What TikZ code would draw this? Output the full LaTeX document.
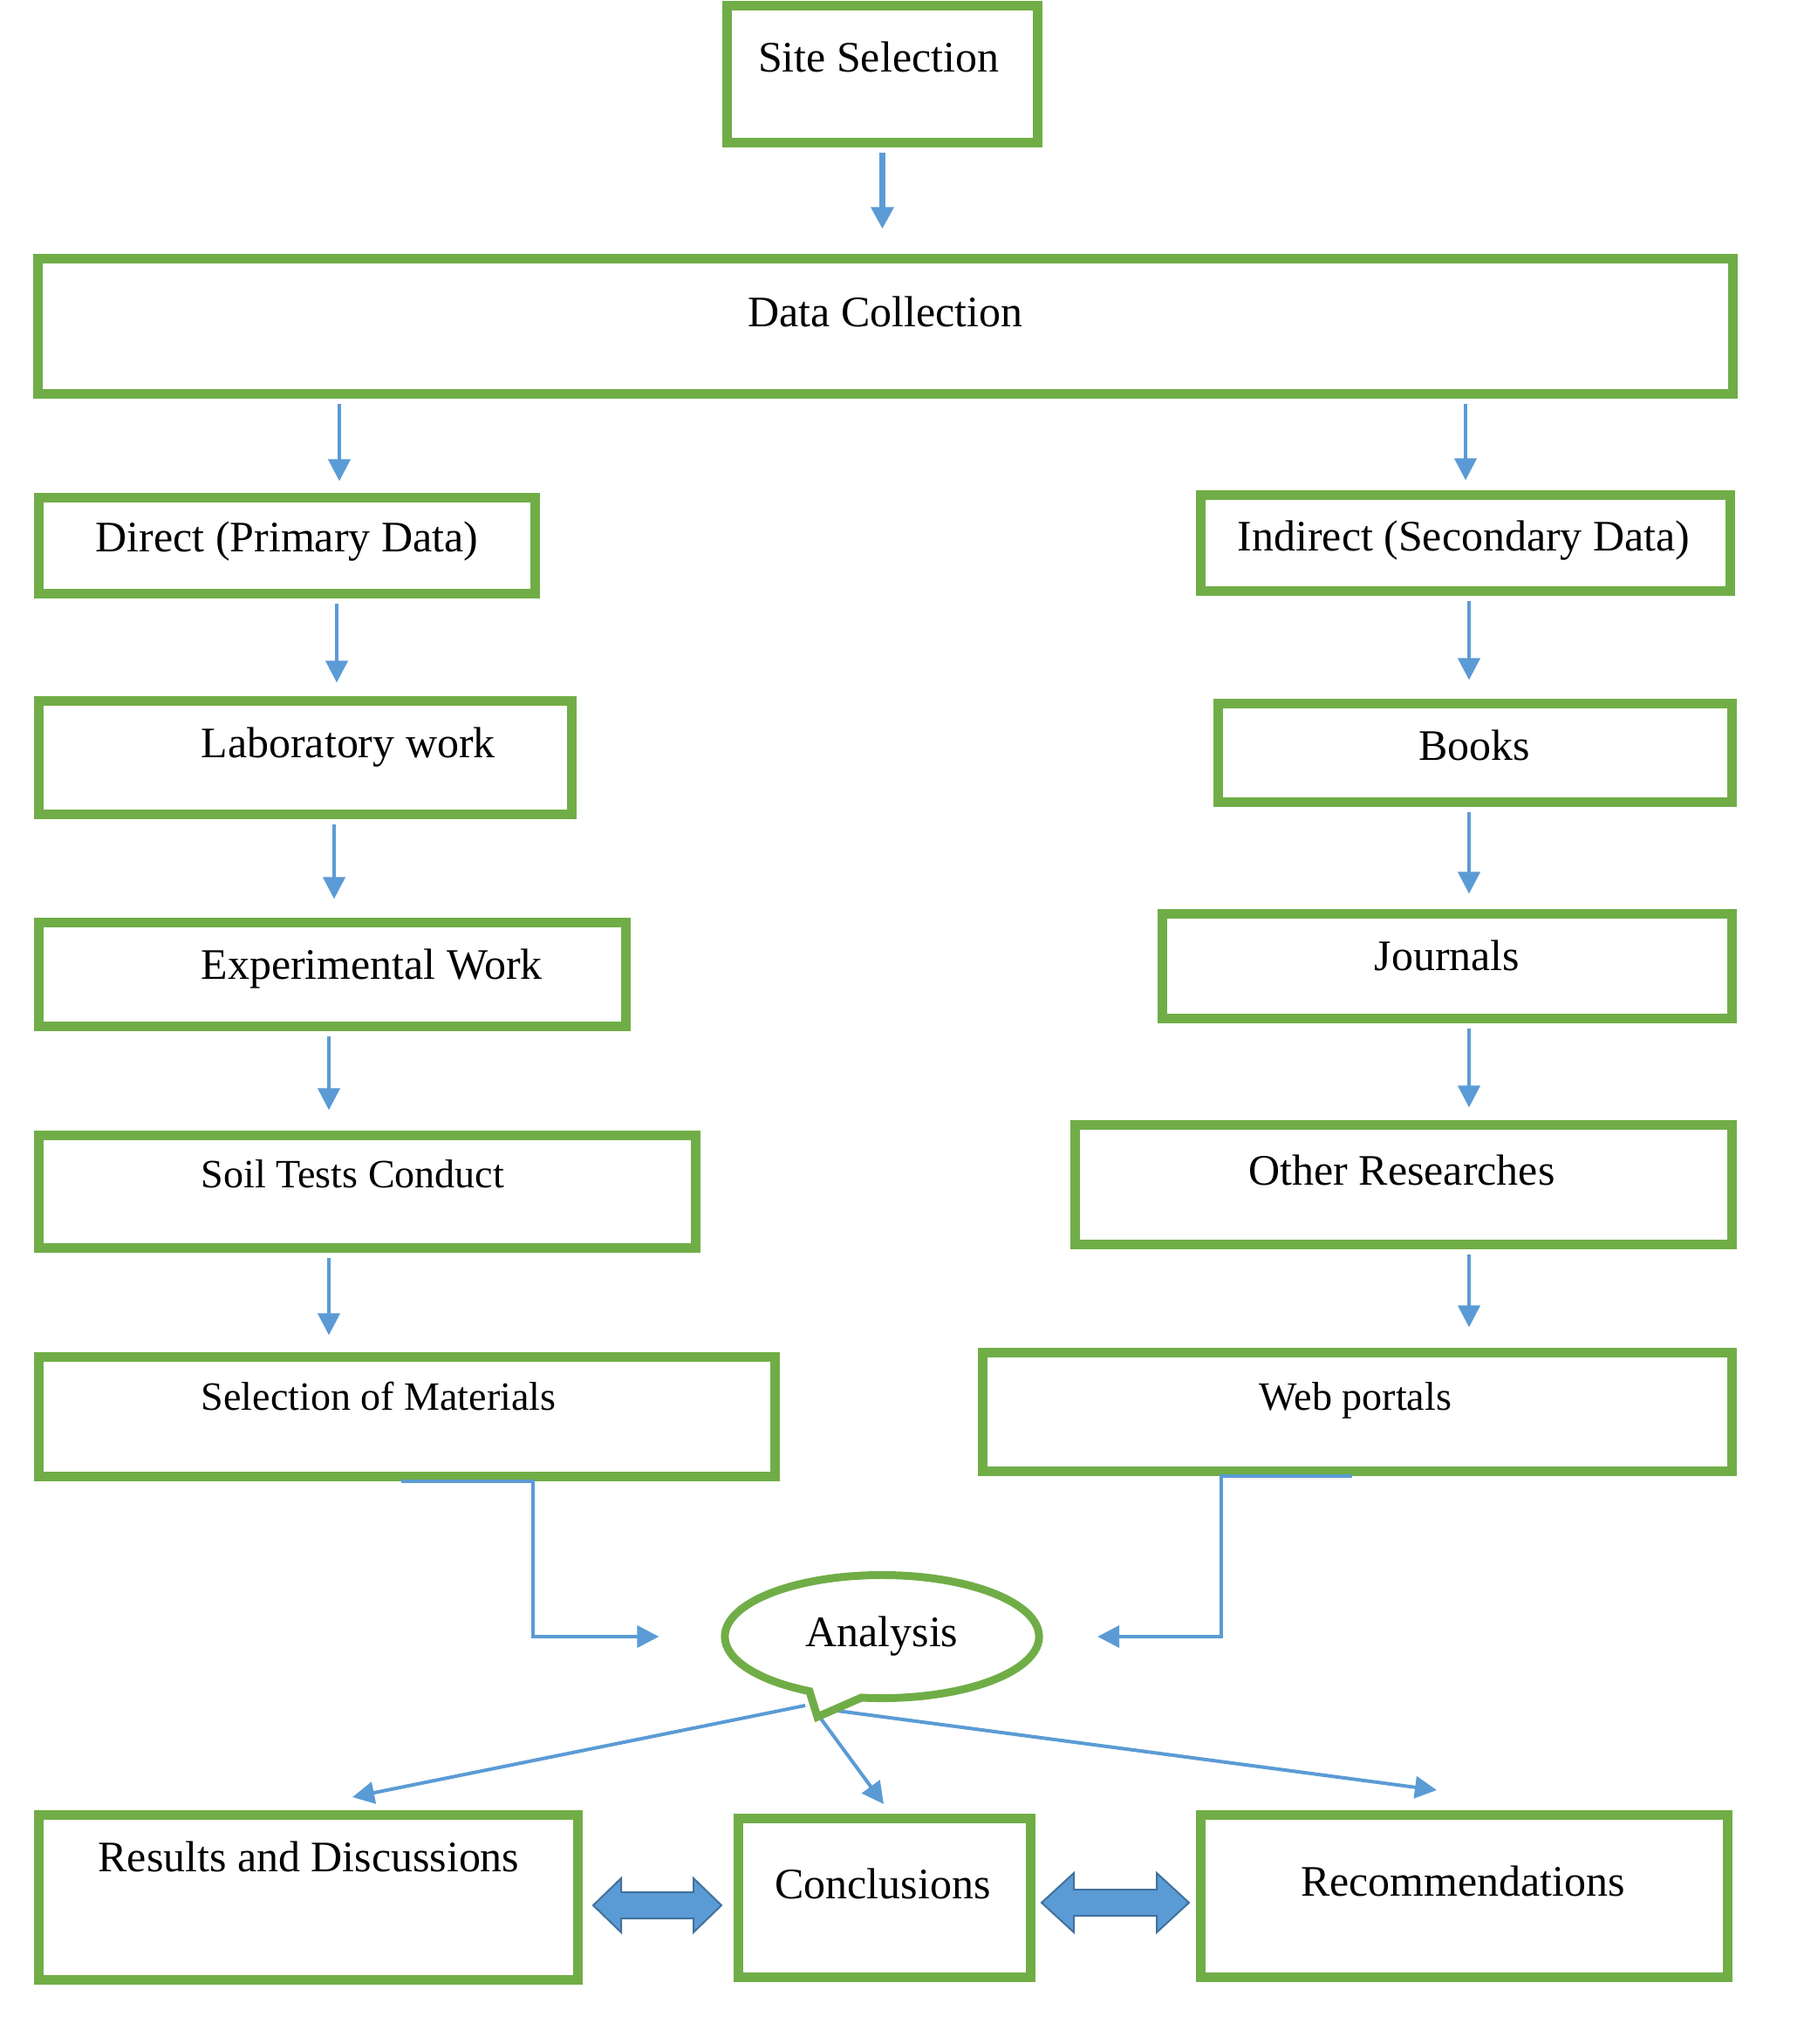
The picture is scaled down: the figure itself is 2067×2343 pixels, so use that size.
\documentclass[tikz,border=0pt]{standalone}
\usepackage{fontspec}
\setmainfont{Liberation Serif}
\usetikzlibrary{shapes.callouts,arrows.meta}
\definecolor{gbox}{HTML}{70AD47}
\definecolor{barr}{HTML}{5B9BD5}
\definecolor{bdark}{HTML}{41719C}
\tikzset{
  box/.style={draw=gbox, line width=0.11cm, inner sep=0pt},
  lbl/.style={inner sep=0pt, anchor=base, font=\fontsize{14.2}{17}\selectfont},
  lbls/.style={inner sep=0pt, anchor=base, font=\fontsize{13.1}{15}\selectfont},
  conn/.style={draw=barr, line width=0.04cm, -{Triangle[length=0.25cm,width=0.25cm]}, shorten <=0.055cm},
  dbl/.style={fill=barr, draw=bdark, line width=0.02cm, line join=miter},
}
\begin{document}
\begin{tikzpicture}[x=0.01cm,y=-0.01cm]
\useasboundingbox (0,0) rectangle (2067,2343);

% boxes
\node[box, minimum width=3.56cm, minimum height=1.57cm] (site) at (1011.5,85) {};
\node[box, minimum width=19.41cm, minimum height=1.55cm] (data) at (1015,374) {};
\node[box, minimum width=5.69cm, minimum height=1.10cm] (direct) at (329,625.5) {};
\node[box, minimum width=6.07cm, minimum height=1.10cm] (indirect) at (1680,622.5) {};
\node[box, minimum width=6.11cm, minimum height=1.30cm] (lab) at (350,868.5) {};
\node[box, minimum width=5.89cm, minimum height=1.13cm] (books) at (1691,863) {};
\node[box, minimum width=6.73cm, minimum height=1.19cm] (exp) at (381,1117) {};
\node[box, minimum width=6.53cm, minimum height=1.20cm] (journals) at (1659,1107.5) {};
\node[box, minimum width=7.53cm, minimum height=1.29cm] (soil) at (421,1366) {};
\node[box, minimum width=7.53cm, minimum height=1.37cm] (other) at (1609,1358) {};
\node[box, minimum width=8.44cm, minimum height=1.37cm] (selm) at (466.5,1624) {};
\node[box, minimum width=8.59cm, minimum height=1.36cm] (web) at (1556,1618.5) {};
\node[box, minimum width=6.18cm, minimum height=1.89cm] (results) at (353.5,2175) {};
\node[box, minimum width=3.35cm, minimum height=1.82cm] (concl) at (1014,2175.5) {};
\node[box, minimum width=6.04cm, minimum height=1.86cm] (recom) at (1678.5,2173.5) {};

% labels
\node[lbl] (siteT) at (1007,83) {Site Selection};
\node[lbl] (dataT) at (1015,375) {Data Collection};
\node[lbl] (directT) at (329,633) {Direct (Primary Data)};
\node[lbl] (indirectT) at (1678,632) {Indirect (Secondary Data)};
\node[lbl, anchor=base west] (labT) at (230,868) {Laboratory work};
\node[lbl] (booksT) at (1690,871) {Books};
\node[lbl, anchor=base west] (expT) at (230,1122) {Experimental Work};
\node[lbl] (journalsT) at (1659,1112) {Journals};
\node[lbls, anchor=base west] (soilT) at (230,1361) {Soil Tests Conduct};
\node[lbl] (otherT) at (1607,1358) {Other Researches};
\node[lbls, anchor=base west] (selmT) at (230,1616) {Selection of Materials};
\node[lbls] (webT) at (1554,1616) {Web portals};
\node[lbl] (resultsT) at (354,2145) {Results and Discussions};
\node[lbl] (conclT) at (1012,2176) {Conclusions};
\node[lbl] (recomT) at (1677,2173) {Recommendations};

% vertical connectors
\draw[conn, line width=0.07cm, shorten >=0.285cm] (site.south) -- (site.south |- data.north);
\draw[conn, shorten >=0.135cm] (389,0 |- data.south) -- (389,0 |- direct.north);
\draw[conn, shorten >=0.115cm] (1680,0 |- data.south) -- (1680,0 |- indirect.north);
\draw[conn, shorten >=0.155cm] (386,0 |- direct.south) -- (386,0 |- lab.north);
\draw[conn, shorten >=0.215cm] (1684,0 |- indirect.south) -- (1684,0 |- books.north);
\draw[conn, shorten >=0.215cm] (383,0 |- lab.south) -- (383,0 |- exp.north);
\draw[conn, shorten >=0.175cm] (1684,0 |- books.south) -- (1684,0 |- journals.north);
\draw[conn, shorten >=0.235cm] (377,0 |- exp.south) -- (377,0 |- soil.north);
\draw[conn, shorten >=0.145cm] (1684,0 |- journals.south) -- (1684,0 |- other.north);
\draw[conn, shorten >=0.195cm] (377,0 |- soil.south) -- (377,0 |- selm.north);
\draw[conn, shorten >=0.235cm] (1684,0 |- other.south) -- (1684,0 |- web.north);

% connectors out of analysis
\coordinate (pL) at (923,1955);
\coordinate (pM) at (938,1966);
\coordinate (pR) at (952,1960);
\coordinate (tL) at (404,2060);
\coordinate (tM) at (1013,2068);
\coordinate (tR) at (1647,2052);
\draw[conn, shorten <=0pt] (pL) -- (tL);
\draw[conn, shorten <=0pt] (pM) -- (tM);
\draw[conn, shorten <=0pt] (pR) -- (tR);

% analysis callout
\node[ellipse callout, draw=gbox, fill=white, line width=0.09cm,
      minimum width=3.60cm, minimum height=1.41cm, inner sep=0pt,
      callout absolute pointer={(937,1968)}, callout pointer arc=20,
      font=\fontsize{14.2}{17}\selectfont] (analysis) at (1011,1876) {Analysis};

% elbow connectors
\draw[conn, shorten <=0pt, shorten >=0.71cm] (460,0 |- selm.south) -| (611,0 |- analysis.west) -- (analysis.west);
\draw[conn, shorten <=0pt, shorten >=0.625cm] (1550,0 |- web.south) -| (1400,0 |- analysis.east) -- (analysis.east);

% double arrows
\filldraw[dbl] (680,2184) -- (712,2153) -- (712,2169) -- (795,2169) -- (795,2153) -- (827,2184)
  -- (795,2215) -- (795,2199) -- (712,2199) -- (712,2215) -- cycle;
\filldraw[dbl] (1194,2181) -- (1231,2147) -- (1231,2166) -- (1326,2166) -- (1326,2147) -- (1363,2181)
  -- (1326,2215) -- (1326,2196) -- (1231,2196) -- (1231,2215) -- cycle;
\end{tikzpicture}
\end{document}
